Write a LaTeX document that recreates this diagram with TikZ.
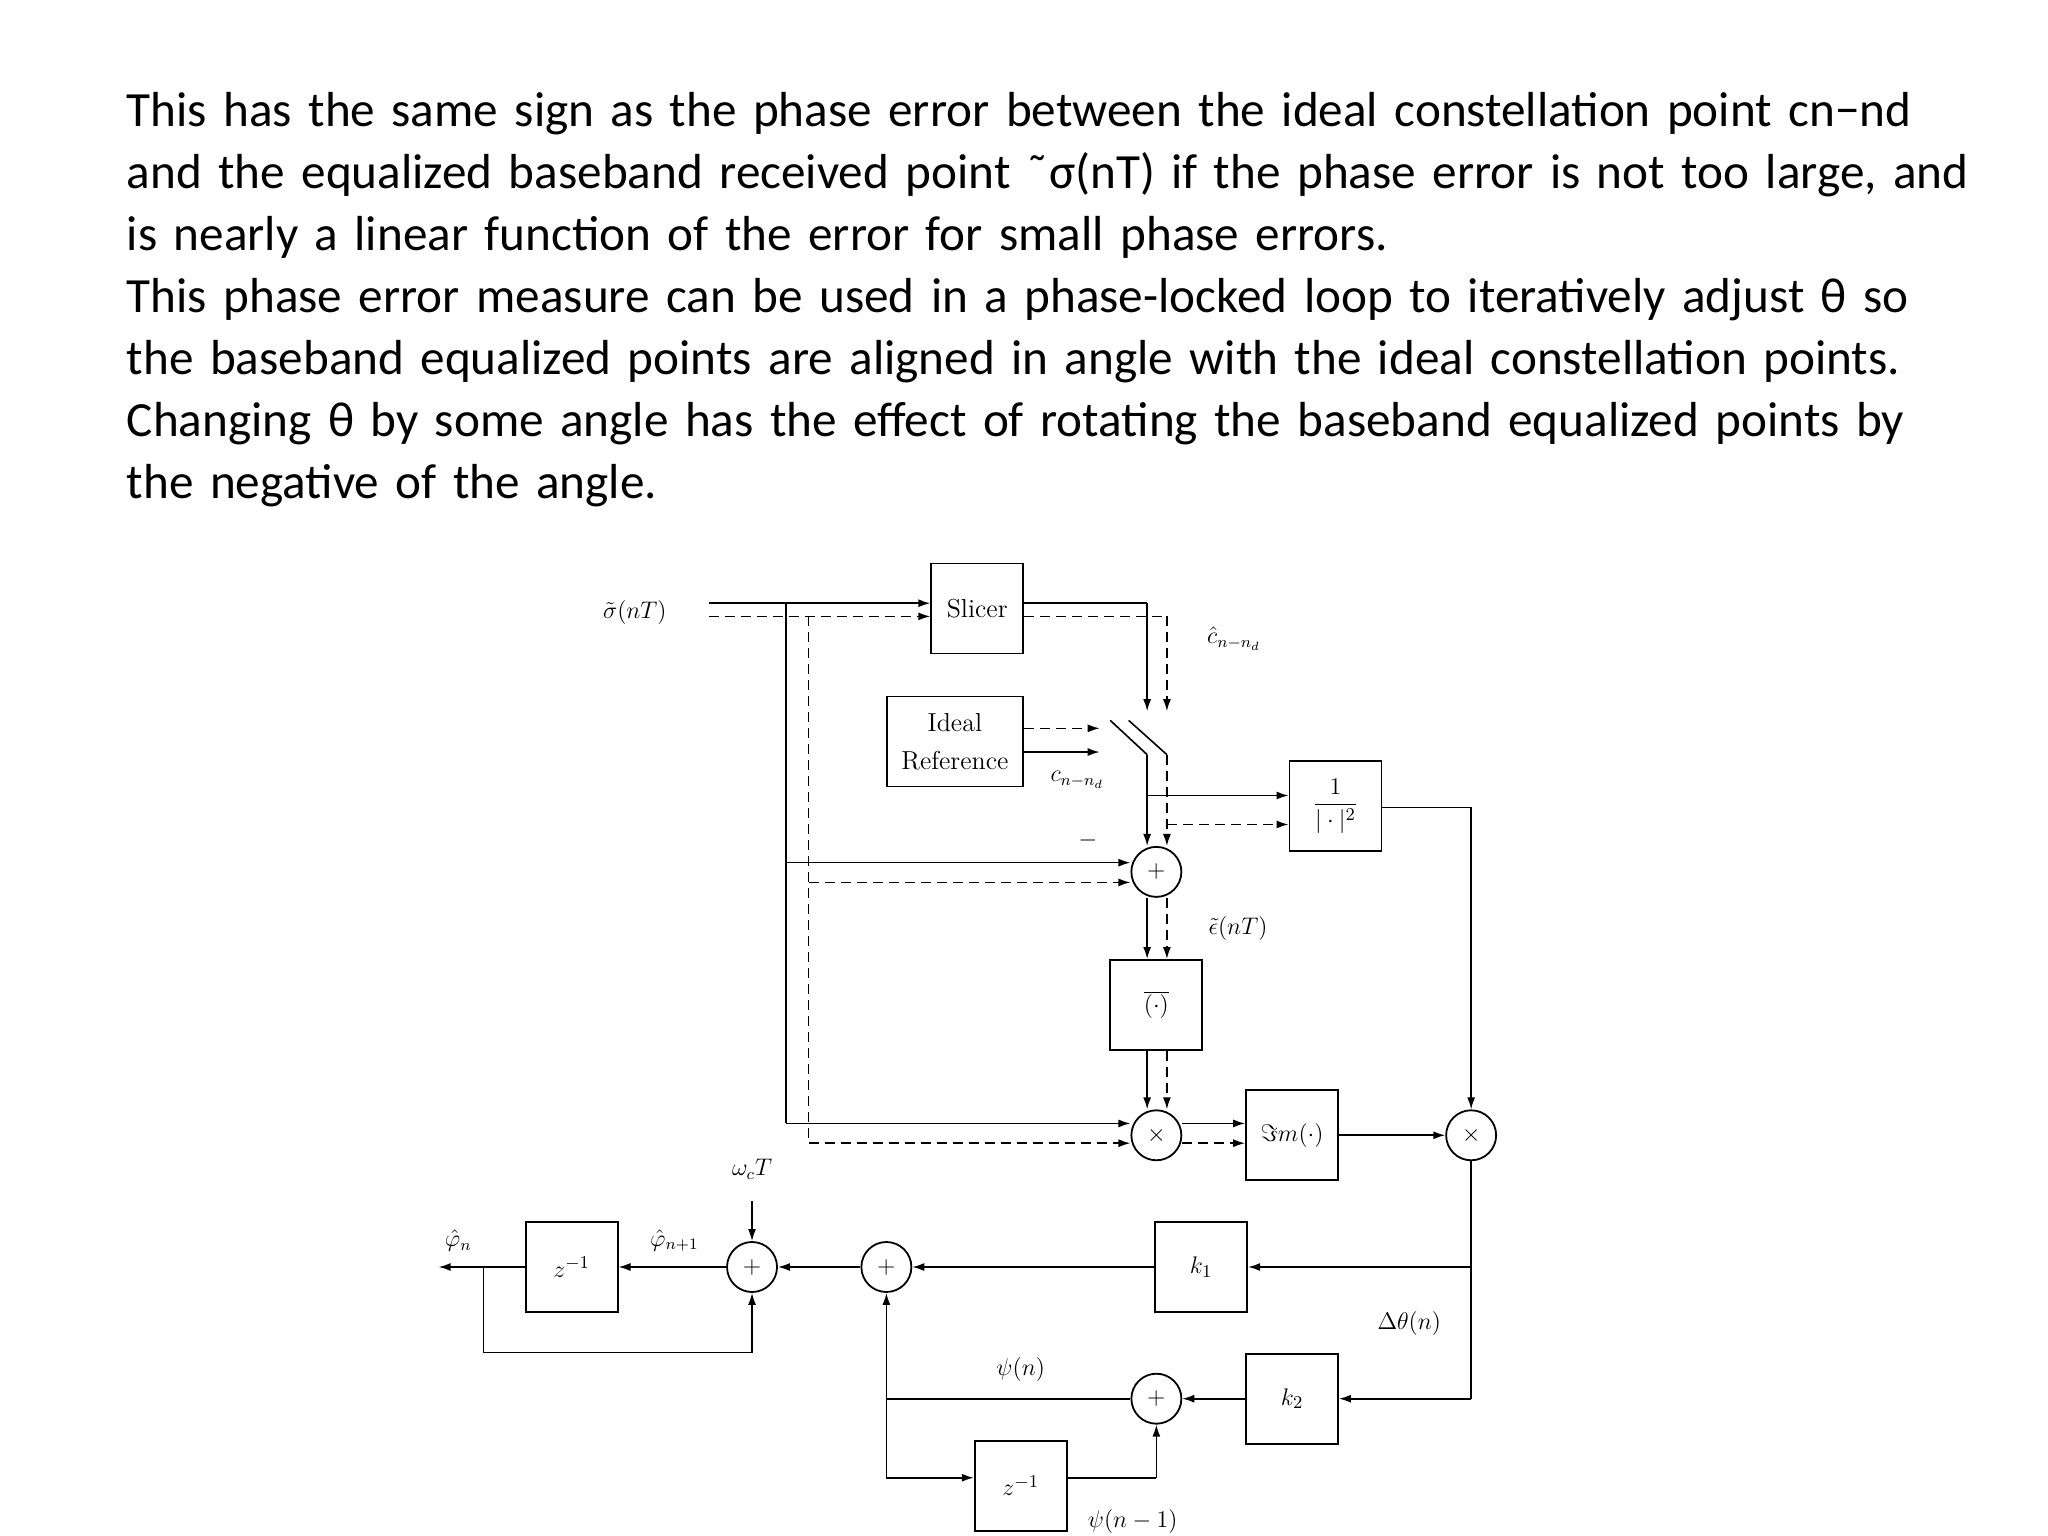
\documentclass[tikz,border=0pt]{standalone}
\usepackage{fontspec}
\newfontfamily\bodyfont{Carlito}
\usetikzlibrary{arrows.meta}
\begin{document}
\begin{tikzpicture}[x=0.6585pt,y=-0.6585pt,
  box/.style={draw,line width=0.9pt,minimum width=46pt,minimum height=45pt,inner sep=0pt,font=\fontsize{13}{15}\selectfont},
  sumc/.style={draw,circle,line width=0.9pt,minimum size=25pt,inner sep=0pt,font=\fontsize{12}{12}\selectfont},
  ln/.style={line width=0.8pt},
  ar/.style={line width=0.8pt,-{Latex[length=6pt,width=4pt]}},
  dar/.style={ar,dash pattern=on 5pt off 3pt},
  dl/.style={ln,dash pattern=on 5pt off 3pt},
  lbl/.style={font=\fontsize{12}{14}\selectfont}]
\useasboundingbox (0,0) rectangle (1555,1166);
\node[anchor=north west,align=left,inner sep=0pt,font=\bodyfont\fontsize{24.6}{31}\selectfont,text width=960pt] (txt) at (96,70)
{This has the same sign as the phase error between the ideal constellation point cn−nd\\
and the equalized baseband received point ˜σ(nT) if the phase error is not too large, and\\
is nearly a linear function of the error for small phase errors.\\
This phase error measure can be used in a phase-locked loop to iteratively adjust θ so\\
the baseband equalized points are aligned in angle with the ideal constellation points.\\
Changing θ by some angle has the effect of rotating the baseband equalized points by\\
the negative of the angle.};
% boxes
\node[box] (slicer) at (742,462) {Slicer};
\node[box,align=center,minimum width=68pt,font=\fontsize{13}{19}\selectfont] (ideal) at (725,563) {Ideal\\Reference};
\node[box] (inv) at (1014,612) {$\displaystyle\frac{1}{|\cdot|^2}$};
\node[box] (conj) at (878,763) {$\overline{(\cdot)}$};
\node[box] (im) at (981,862) {$\Im m(\cdot)$};
\node[box] (k1) at (912,962) {$k_1$};
\node[box] (k2) at (981,1062) {$k_2$};
\node[box] (z1) at (434,962) {$z^{-1}$};
\node[box] (z2) at (775,1128) {$z^{-1}$};
\node[sumc] (s1) at (878,662) {$+$};
\node[sumc] (m1) at (878,862) {$\times$};
\node[sumc] (m2) at (1117,862) {$\times$};
\node[sumc] (s2) at (673,962) {$+$};
\node[sumc] (s3) at (571,962) {$+$};
\node[sumc] (s4) at (878,1062) {$+$};
% labels
\node[lbl] (lsig) at (482,465) {$\tilde\sigma(nT)$};
\node[lbl] (lch) at (937,485) {$\hat c_{n-n_d}$};
\node[lbl] (lc) at (818,592) {$c_{n-n_d}$};
\node[lbl] (lminus) at (826,638) {$-$};
\node[lbl] (leps) at (940,705) {$\tilde\epsilon(nT)$};
\node[lbl] (lwc) at (571,888) {$\omega_cT$};
\node[lbl] (lphn1) at (512,942) {$\hat\varphi_{n+1}$};
\node[lbl] (lphn) at (348,942) {$\hat\varphi_n$};
\node[lbl] (ldt) at (1070,1005) {$\Delta\theta(n)$};
\node[lbl] (lpsi) at (775,1040) {$\psi(n)$};
\node[lbl] (lpsi1) at (860,1155) {$\psi(n-1)$};
% coordinates
\coordinate (a0) at (538,458); \coordinate (b0) at (538,468);
\coordinate (ta) at (597,458); \coordinate (tb) at (614,468);
\coordinate (sa1) at (871,458); \coordinate (sa2) at (871,540);
\coordinate (sb1) at (886,468); \coordinate (sb2) at (886,540);
\coordinate (sw1a) at (843,547); \coordinate (sw1b) at (871,573);
\coordinate (sw2a) at (857,547); \coordinate (sw2b) at (886,573);
\coordinate (ia) at (835,571); \coordinate (ib) at (835,553);
% top signals
\draw[ar] (a0) -- (slicer.west|-a0);
\draw[dar] (b0) -- (slicer.west|-b0);
\draw[ln] (slicer.east|-a0) -- (sa1);
\draw[ar] (sa1) -- (sa2);
\draw[dl] (slicer.east|-b0) -- (sb1);
\draw[dar] (sb1) -- (sb2);
\draw[dar] (ideal.east|-ib) -- (ib);
\draw[ar] (ideal.east|-ia) -- (ia);
\draw[ln] (sw1a) -- (sw1b); \draw[ln] (sw2a) -- (sw2b);
\draw[ar] (sw1b) -- (s1.north-|sw1b);
\draw[dar] (sw2b) -- (s1.north-|sw2b);
\coordinate (ba) at (871,604); \coordinate (bb) at (886,626);
\draw[ar] (ba) -- (inv.west|-ba);
\draw[dar] (bb) -- (inv.west|-bb);
% left verticals
\coordinate (ta2) at (597,853); \coordinate (tb2) at (614,868);
\draw[ln] (ta) -- (ta2); \draw[dl] (tb) -- (tb2);
\coordinate (ta1) at (597,655); \coordinate (tb1) at (614,670);
\draw[ar] (ta1) -- (s1.west|-ta1);
\draw[dar] (tb1) -- (s1.west|-tb1);
\draw[ar] (ta2) -- (m1.west|-ta2);
\draw[dar] (tb2) -- (m1.west|-tb2);
% error to conj to mult
\draw[ar] (s1.south-|sw1b) -- (conj.north-|sw1b);
\draw[dar] (s1.south-|sw2b) -- (conj.north-|sw2b);
\draw[ar] (conj.south-|sw1b) -- (m1.north-|sw1b);
\draw[dar] (conj.south-|sw2b) -- (m1.north-|sw2b);
\draw[ar] (m1.east|-ta2) -- (im.west|-ta2);
\draw[dar] (m1.east|-tb2) -- (im.west|-tb2);
\draw[ar] (im) -- (m2);
\coordinate (iv1) at (1117,613);
\draw[ln] (inv.east|-iv1) -- (iv1);
\draw[ar] (iv1) -- (m2);
% loop filter
\coordinate (r1) at (1117,962); \coordinate (r2) at (1117,1062);
\draw[ln] (m2) -- (r2);
\draw[ar] (r1) -- (k1);
\draw[ar] (r2) -- (k2);
\draw[ar] (k1) -- (s2);
\draw[ar] (s2) -- (s3);
\coordinate (wc) at (571,912);
\draw[ar] (wc) -- (s3);
\draw[ar] (s3) -- (z1);
\coordinate (out) at (333,962); \coordinate (f1) at (367,962); \coordinate (f2) at (367,1027); \coordinate (f3) at (571,1027);
\draw[ar] (z1) -- (out);
\draw[ln] (f1) -- (f2) -- (f3);
\draw[ar] (f3) -- (s3);
\draw[ar] (k2) -- (s4);
\coordinate (p1) at (673,1062); \coordinate (p2) at (673,1122); \coordinate (p3) at (878,1122);
\draw[ln] (s4) -- (p1);
\draw[ar] (p2) -- (s2);
\draw[ar] (p2) -- (z2.west|-p2);
\draw[ln] (z2.east|-p3) -- (p3);
\draw[ar] (p3) -- (s4);
\end{tikzpicture}
\end{document}
